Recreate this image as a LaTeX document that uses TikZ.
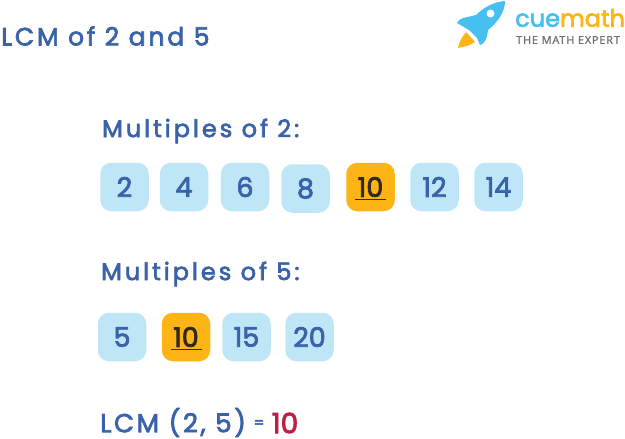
\documentclass[tikz,border=0pt]{standalone}
\usepackage{fontspec}
\setmainfont[FakeBold=2.8]{Poppins}
\newfontfamily\spacedA[LetterSpace=11.5,FakeBold=2.8]{Poppins}
\newfontfamily\spacedB[LetterSpace=12.5,FakeBold=2.8]{Poppins}
\newfontfamily\spacedC[LetterSpace=10,FakeBold=2.8]{Poppins}
\newfontfamily\logofont[FakeBold=2.5]{Poppins}
\newfontfamily\subfont[LetterSpace=7,FakeBold=1]{Open Sans}
\definecolor{titleblue}{HTML}{3A62AB}
\definecolor{boxblue}{HTML}{BFE6F6}
\definecolor{boxorange}{HTML}{FDB515}
\definecolor{resred}{HTML}{BE1E45}
\definecolor{rocket}{HTML}{45C0F0}
\definecolor{logogrey}{HTML}{6D6E71}
\definecolor{hotink}{HTML}{33291A}
\tikzset{
 x=1pt,y=-1pt,
 numbox/.style={rounded corners=11pt,minimum width=48.5pt,minimum height=48.5pt,inner sep=0pt,font=\fontsize{27}{27}\selectfont,text=titleblue},
 plainbox/.style={numbox,fill=boxblue},
 hotbox/.style={numbox,fill=boxorange,text=hotink},
 hotline/.style={draw=hotink,line width=1.5pt},
 heading/.style={anchor=west,inner sep=0pt,text=titleblue,font=\spacedB\fontsize{24}{24}\selectfont},
}
\begin{document}
\begin{tikzpicture}
\useasboundingbox (0,0) rectangle (625,439);
\node[heading,font=\spacedA\fontsize{25}{25}\selectfont] (title) at (1,36) {LCM of 2 and 5};
\node[heading] (m2) at (102,131) {Multiples of 2:};
\node[heading] (m5) at (101,274) {Multiples of 5:};
\node[plainbox] (a1) at (124.5,187) {2};
\node[plainbox] (a2) at (184,187) {4};
\node[plainbox] (a3) at (245,187) {6};
\node[plainbox] (a4) at (305.5,188.5) {8};
\node[hotbox] (a5) at (370.5,187) {10};
\node[plainbox] (a6) at (434.5,187) {12};
\node[plainbox] (a7) at (498.5,187) {14};
\node[plainbox] (b1) at (122,337) {5};
\node[hotbox] (b2) at (186,337) {10};
\node[plainbox] (b3) at (246.5,337) {15};
\node[plainbox] (b4) at (309.5,337) {20};
\draw[hotline] (355,199.5) -- (386,199.5);
\draw[hotline] (170.5,349.5) -- (201.5,349.5);
\node[heading,font=\spacedC\fontsize{26}{26}\selectfont] (lcm) at (100,422.5) {LCM (2, 5)};
\node[anchor=center,inner sep=0pt,text=titleblue,font=\fontsize{15}{15}\selectfont] (eq) at (259,424) {=};
\node[anchor=west,inner sep=0pt,text=resred,font=\fontsize{28}{28}\selectfont] (res) at (271.5,423) {10};
% logo: rocket
\fill[rocket] (505,1) .. controls (494,2) and (484,7) .. (476,15) -- (463,18) .. controls (460,19) and (458,21) .. (457,23) -- (469,30) -- (477,38) -- (480,45) .. controls (484,44) and (487,40) .. (488,30) .. controls (498,22) and (505,12) .. (505,1) -- cycle;
\fill[white] (490.5,13.5) circle (4);
\fill[boxorange] (466,32) -- (475,42) .. controls (471,45) and (464,47) .. (458,48) .. controls (459,42) and (462,37) .. (466,32) -- cycle;
\node[anchor=west,inner sep=0pt,font=\logofont\fontsize{24}{24}\selectfont] (brand) at (515,18) {\textcolor{rocket}{cue}\textcolor{boxorange}{math}};
\node[anchor=west,inner sep=0pt,text=logogrey,font=\subfont\fontsize{11}{11}\selectfont] (tag) at (516,40) {THE MATH EXPERT};
\end{tikzpicture}
\end{document}
